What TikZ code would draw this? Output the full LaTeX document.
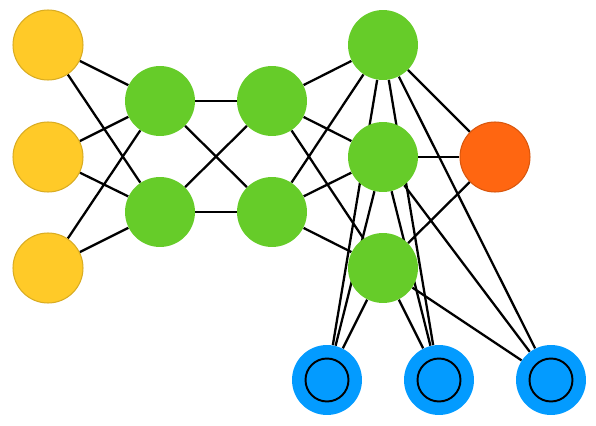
\documentclass[tikz,border=0pt]{standalone}
\usetikzlibrary{backgrounds}

\definecolor{inyellow}{RGB}{255,202,40}
\definecolor{hidgreen}{RGB}{102,204,41}
\definecolor{outorange}{RGB}{255,102,17}
\definecolor{recblue}{RGB}{3,155,255}

\begin{document}
\begin{tikzpicture}[
        x=0.02cm, y=-0.02cm,
        every node/.style={circle, minimum size=1.4cm, inner sep=0pt},
        input/.style={fill=inyellow, draw=inyellow!85!black, line width=0.6pt},
        hidden/.style={fill=hidgreen},
        output/.style={fill=outorange, draw=outorange!85!black, line width=0.6pt},
        recur/.style={fill=recblue, path picture={
            \draw[line width=1.1pt] (path picture bounding box.center) circle (0.43cm);}},
        link/.style={draw, line width=1.3pt}
      ]
      \useasboundingbox (0,0) rectangle (596,426);

      % input layer
      \node[input] (i1) at (48,45) {};
      \node[input] (i2) at (48,157) {};
      \node[input] (i3) at (48,268) {};
      % hidden layers
      \node[hidden] (a1) at (160,101) {};
      \node[hidden] (a2) at (160,212) {};
      \node[hidden] (b1) at (272,101) {};
      \node[hidden] (b2) at (272,212) {};
      \node[hidden] (c1) at (383,45) {};
      \node[hidden] (c2) at (383,157) {};
      \node[hidden] (c3) at (383,268) {};
      % output
      \node[output] (o1) at (495,157) {};
      % recurrent cells
      \node[recur] (r1) at (327,380) {};
      \node[recur] (r2) at (439,380) {};
      \node[recur] (r3) at (551,380) {};

      \begin{scope}[on background layer]
        \foreach \s in {i1,i2,i3} \foreach \t in {a1,a2} \draw[link] (\s) -- (\t);
        \foreach \s in {a1,a2} \foreach \t in {b1,b2} \draw[link] (\s) -- (\t);
        \foreach \s in {b1,b2} \foreach \t in {c1,c2,c3} \draw[link] (\s) -- (\t);
        \foreach \s in {c1,c2,c3} \draw[link] (\s) -- (o1);
        \foreach \s in {c1,c2,c3} \foreach \t in {r1,r2,r3} \draw[link] (\s) -- (\t);
      \end{scope}

      \end{tikzpicture}
\end{document}
